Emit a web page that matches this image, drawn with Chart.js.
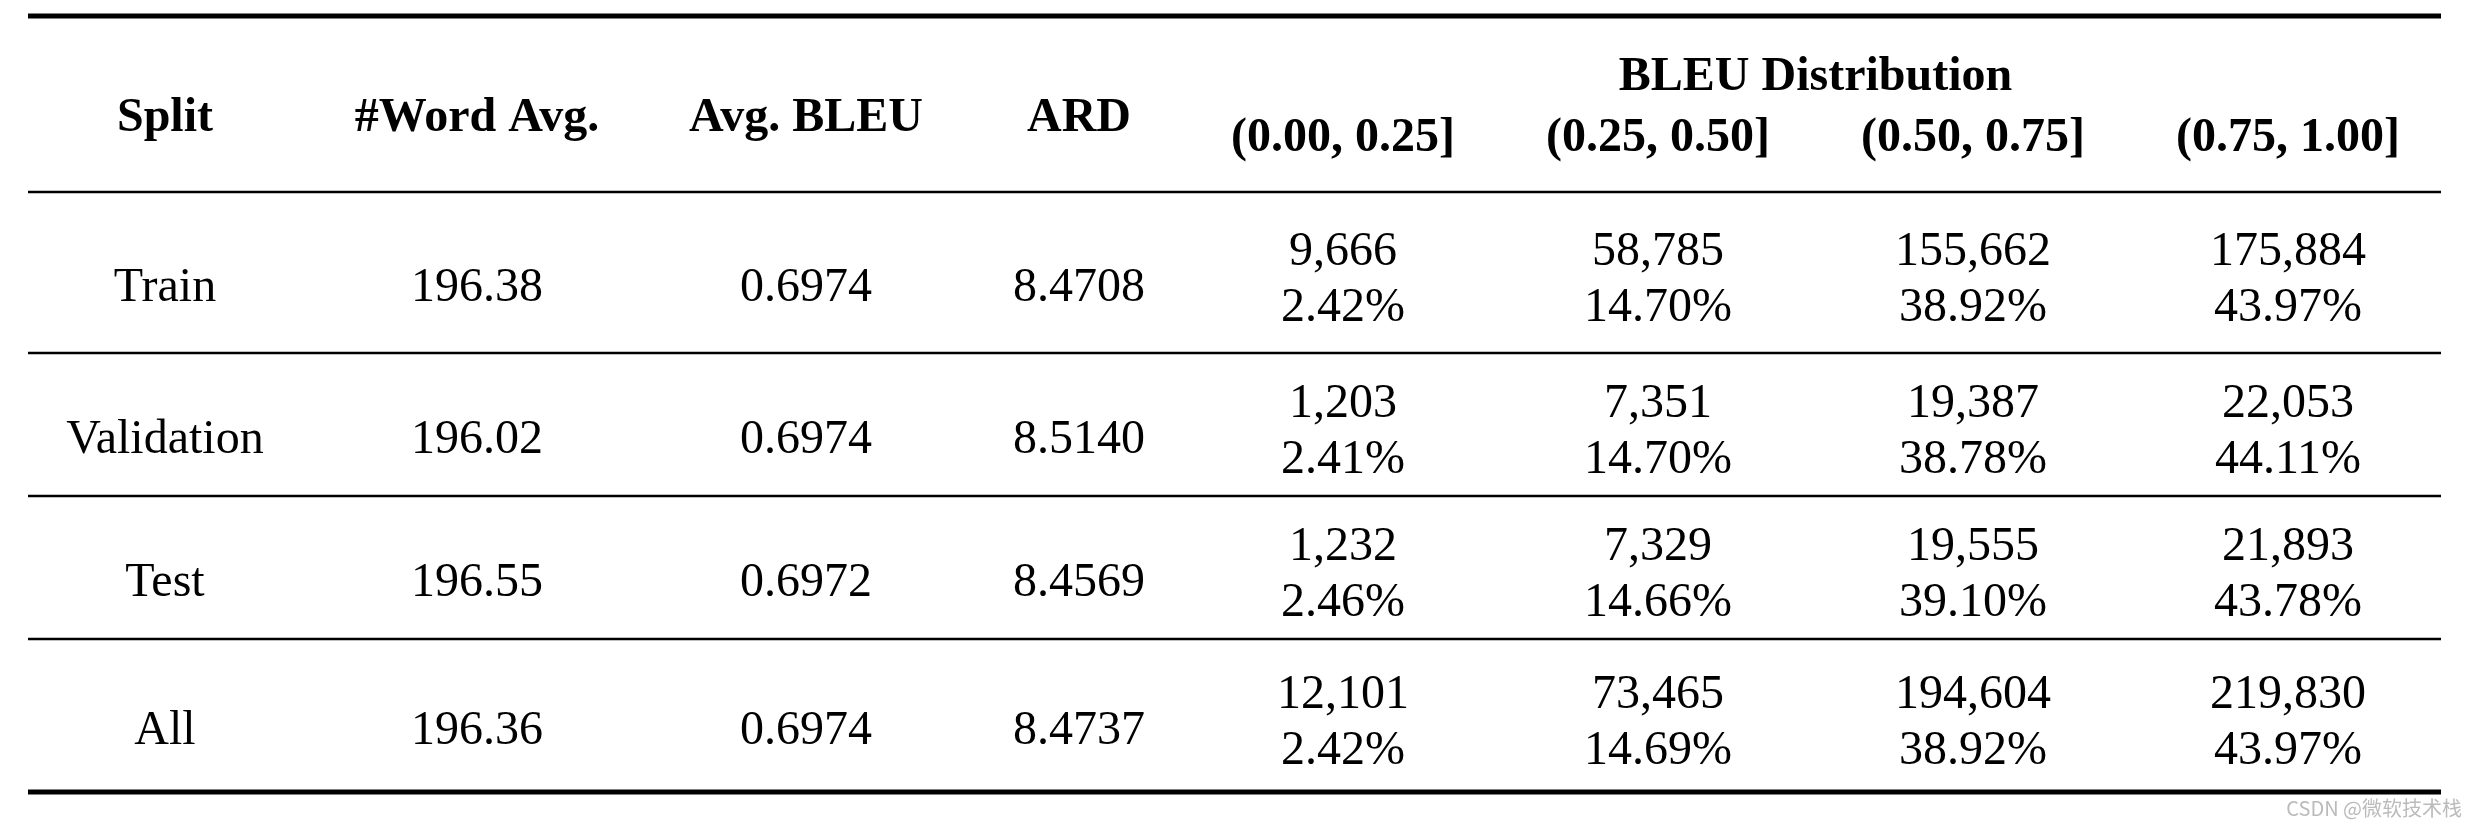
<!DOCTYPE html>
<html><head><meta charset="utf-8">
<script src="https://cdn.jsdelivr.net/npm/chart.js@4"></script>
<style>html,body{margin:0;padding:0;background:#fff;}canvas{display:block;}</style>
</head><body>
<canvas id="c" width="2470" height="822"></canvas>
<script>
// ---- data ----
const splits = ["Train", "Validation", "Test", "All"];
const wordAvg = ["196.38", "196.02", "196.55", "196.36"];
const avgBleu = ["0.6974", "0.6974", "0.6972", "0.6974"];
const ard = ["8.4708", "8.5140", "8.4569", "8.4737"];
const binLabels = ["(0.00, 0.25]", "(0.25, 0.50]", "(0.50, 0.75]", "(0.75, 1.00]"];
const binCounts = [
  ["9,666", "58,785", "155,662", "175,884"],
  ["1,203", "7,351", "19,387", "22,053"],
  ["1,232", "7,329", "19,555", "21,893"],
  ["12,101", "73,465", "194,604", "219,830"]
];
const binPercents = [
  ["2.42%", "14.70%", "38.92%", "43.97%"],
  ["2.41%", "14.70%", "38.78%", "44.11%"],
  ["2.46%", "14.66%", "39.10%", "43.78%"],
  ["2.42%", "14.69%", "38.92%", "43.97%"]
];
const headers = ["Split", "#Word Avg.", "Avg. BLEU", "ARD"];
const groupTitle = "BLEU Distribution";

// ---- layout (scale units) ----
const colX = [165, 477, 806, 1079, 1343, 1658, 1973, 2288];
const ruleY = [16, 192, 353, 496, 639, 792];
const tableL = 28, tableR = 2441;
const FONT = '"Liberation Serif", "Times New Roman", serif';

const points = [];
splits.forEach((s, r) => colX.forEach((x) => points.push({x: x, y: (ruleY[r+1] + ruleY[r+2]) / 2})));

const tablePlugin = {
  id: 'table',
  afterDraw(chart) {
    const ctx = chart.ctx, xs = chart.scales.x, ys = chart.scales.y;
    const X = v => xs.getPixelForValue(v), Y = v => ys.getPixelForValue(v);
    ctx.save();
    ctx.fillStyle = '#000'; ctx.strokeStyle = '#000';
    ruleY.forEach((y, i) => {
      ctx.lineWidth = (i === 0 || i === ruleY.length - 1) ? 5 : 2.5;
      ctx.beginPath(); ctx.moveTo(X(tableL), Y(y)); ctx.lineTo(X(tableR), Y(y)); ctx.stroke();
    });
    ctx.textAlign = 'center'; ctx.textBaseline = 'middle';
    ctx.font = 'bold 48px ' + FONT;
    headers.forEach((h, i) => ctx.fillText(h, X(colX[i]), Y(119)));
    ctx.fillText(groupTitle, (X(colX[4]) + X(colX[7])) / 2, Y(78));
    binLabels.forEach((b, i) => ctx.fillText(b, X(colX[4 + i]), Y(139)));
    ctx.font = '48px ' + FONT;
    splits.forEach((s, r) => {
      const cy = (ruleY[r + 1] + ruleY[r + 2]) / 2;
      [s, wordAvg[r], avgBleu[r], ard[r]].forEach((t, i) => ctx.fillText(t, X(colX[i]), Y(cy + 16)));
      for (let j = 0; j < 4; j++) {
        ctx.fillText(binCounts[r][j], X(colX[4 + j]), Y(cy - 20));
        ctx.fillText(binPercents[r][j], X(colX[4 + j]), Y(cy + 36));
      }
    });
    ctx.font = '20px "Noto Sans CJK SC", sans-serif';
    ctx.fillStyle = '#bbb'; ctx.textAlign = 'right';
    ctx.fillText('CSDN @微软技术栈', X(2462), Y(808));
    ctx.restore();
  }
};

new Chart(document.getElementById('c'), {
  type: 'scatter',
  data: { datasets: [{ data: points, pointRadius: 0 }] },
  options: {
    responsive: false, animation: false, devicePixelRatio: 1,
    layout: { padding: 0 },
    plugins: { legend: { display: false }, tooltip: { enabled: false } },
    scales: {
      x: { type: 'linear', min: 0, max: 2470, display: false },
      y: { type: 'linear', min: 0, max: 822, reverse: true, display: false }
    }
  },
  plugins: [tablePlugin]
});
</script>
</body></html>
